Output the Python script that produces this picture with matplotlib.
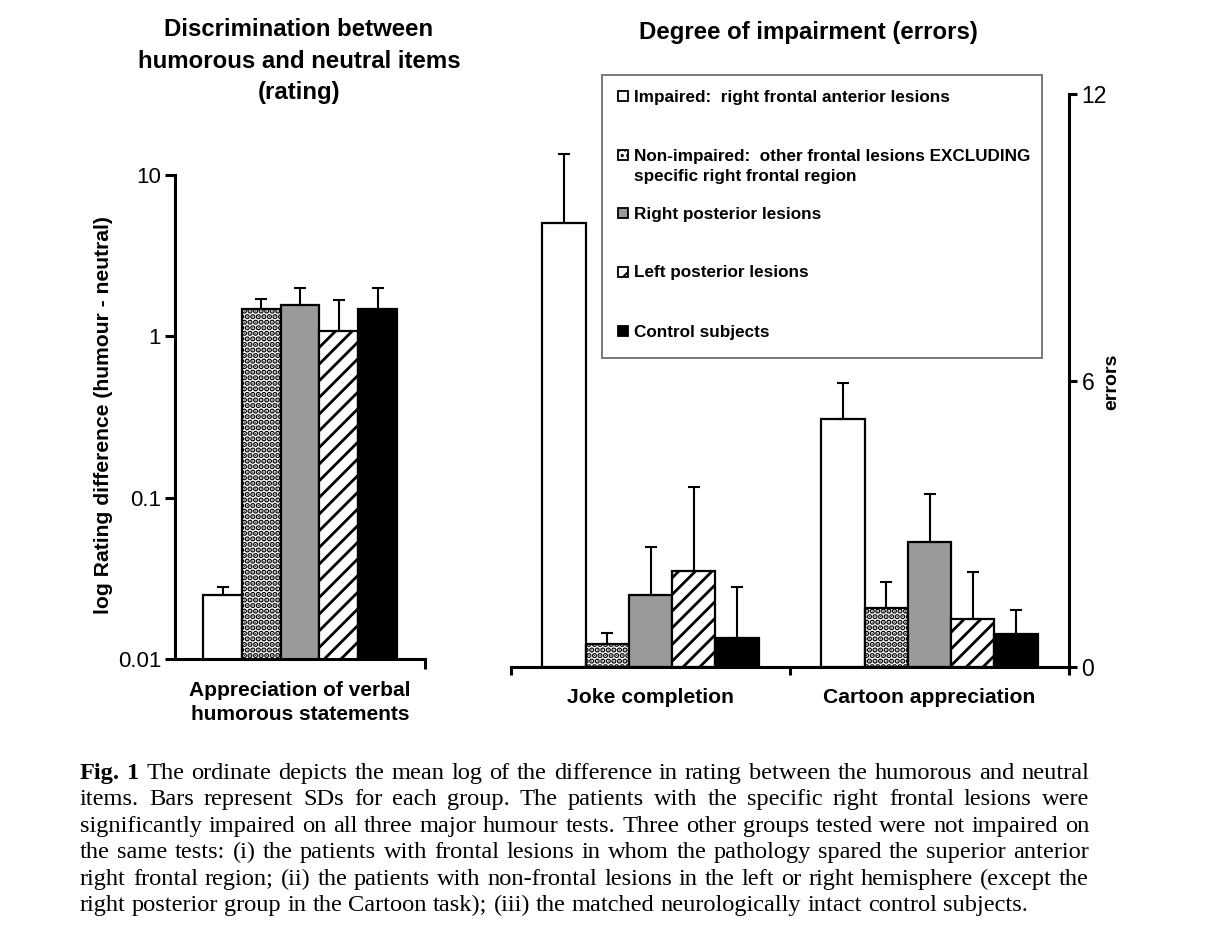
import numpy as np
import matplotlib
matplotlib.use("Agg")
import matplotlib.pyplot as plt
from matplotlib.patches import Rectangle
from matplotlib.ticker import FixedLocator, NullLocator

# --- data ---
groups = ["Impaired:  right frontal anterior lesions",
          "Non-impaired:  other frontal lesions EXCLUDING\nspecific right frontal region",
          "Right posterior lesions",
          "Left posterior lesions",
          "Control subjects"]

verbal_label = "Appreciation of verbal\nhumorous statements"
verbal_mean = [0.025, 1.48, 1.56, 1.08, 1.48]
verbal_sd = [0.003, 0.23, 0.44, 0.60, 0.52]

error_tasks = ["Joke completion", "Cartoon appreciation"]
joke_mean = [9.30, 0.49, 1.50, 2.01, 0.60]
joke_sd = [1.44, 0.22, 1.01, 1.75, 1.07]
cartoon_mean = [5.19, 1.24, 2.61, 1.00, 0.69]
cartoon_sd = [0.76, 0.53, 1.01, 1.00, 0.50]

# bar styles per group
faces = ["white", "white", "#9a9a9a", "white", "black"]
hatches = ["", "...", "", "//", ""]
hatch_lw = [1.0, 2.8, 1.0, 2.0, 1.0]

W, H = 1222, 946
plt.rcParams["font.family"] = ["Liberation Sans", "DejaVu Sans"]
plt.rcParams["hatch.color"] = "black"

fig = plt.figure(figsize=(W / 100, H / 100), dpi=100)
fig.patch.set_facecolor("white")


def fx(px):
    return px / W


def fy(py):
    return 1 - py / H


bw = 0.155
offsets = (np.arange(5) - 2) * bw


def draw_bars(ax, center, means, sds):
    for i in range(5):
        x = center + offsets[i]
        with plt.rc_context({"hatch.linewidth": hatch_lw[i]}):
            ax.bar(x, means[i], width=bw, color=faces[i], hatch=hatches[i],
                   edgecolor="black", linewidth=1.6, zorder=2)
        ax.errorbar(x, means[i], yerr=[[0], [sds[i]]], fmt="none",
                    ecolor="black", elinewidth=1.5, capsize=4, capthick=1.5,
                    zorder=3)


# ---------- left panel: log rating difference ----------
ax1 = fig.add_axes([fx(175), fy(659), fx(250), (659 - 175) / H])
ax1.set_yscale("log")
draw_bars(ax1, 0.5, verbal_mean, verbal_sd)
ax1.set_xlim(0, 1)
ax1.set_ylim(0.01, 10)
ax1.yaxis.set_major_locator(FixedLocator([0.01, 0.1, 1, 10]))
ax1.yaxis.set_minor_locator(NullLocator())
ax1.set_yticklabels(["0.01", "0.1", "1", "10"])
ax1.set_xticks([1])
ax1.set_xticklabels([])
ax1.set_xticks([0.5], labels=[verbal_label], minor=True)
ax1.tick_params(axis="x", which="minor", length=0, pad=16, labelsize=15)
for t in ax1.get_xticklabels(minor=True):
    t.set_fontweight("bold")
    t.set_linespacing(1.3)
ax1.tick_params(axis="both", which="major", direction="out", length=7,
                width=2.2, labelsize=16)
ax1.tick_params(axis="y", pad=3)
for s in ["top", "right"]:
    ax1.spines[s].set_visible(False)
for s in ["left", "bottom"]:
    ax1.spines[s].set_linewidth(2.2)
ax1.set_ylabel("log Rating difference (humour - neutral)", fontsize=15.2,
               fontweight="bold", va="center")
ax1.yaxis.set_label_coords((103 - 175) / 250, (659 - 415) / 484)

# ---------- right panel: errors ----------
ax2 = fig.add_axes([fx(511), fy(667), fx(1069 - 511), (667 - 94) / H])
draw_bars(ax2, 0.5, joke_mean, joke_sd)
draw_bars(ax2, 1.5, cartoon_mean, cartoon_sd)
ax2.set_xlim(0, 2)
ax2.set_ylim(0, 12)
ax2.yaxis.tick_right()
ax2.yaxis.set_label_position("right")
ax2.set_yticks([0, 6, 12])
ax2.set_xticks([0, 1, 2])
ax2.set_xticklabels([])
ax2.set_xticks([0.5, 1.5], labels=error_tasks, minor=True)
ax2.tick_params(axis="x", which="minor", length=0, pad=15, labelsize=15.2)
for t in ax2.get_xticklabels(minor=True):
    t.set_fontweight("bold")
ax2.tick_params(axis="both", which="major", direction="out", length=6,
                width=2.2, labelsize=16.5)
ax2.tick_params(axis="y", pad=3)
for s in ["top", "left"]:
    ax2.spines[s].set_visible(False)
for s in ["right", "bottom"]:
    ax2.spines[s].set_linewidth(2.2)
ax2.set_ylabel("errors", fontsize=14, fontweight="bold", va="center")
ax2.yaxis.set_label_coords((1112 - 511) / 558, (667 - 382) / 573)

# ---------- titles ----------
fig.text(fx(299), fy(61), "Discrimination between\nhumorous and neutral items\n(rating)",
         ha="center", va="center", fontsize=17.3, fontweight="bold",
         linespacing=1.45)
fig.text(fx(808), fy(32), "Degree of impairment (errors)", ha="center",
         va="center", fontsize=17.3, fontweight="bold")

# ---------- legend box ----------
fig.add_artist(Rectangle((fx(602), fy(358)), fx(440), 283 / H,
                         transform=fig.transFigure, fill=False,
                         edgecolor="#6e6e6e", linewidth=1.3))
legend_y = [96, 155, 213, 272, 331]
for i, lab in enumerate(groups):
    yc = legend_y[i]
    with plt.rc_context({"hatch.linewidth": min(hatch_lw[i], 1.5)}):
        fig.add_artist(Rectangle((fx(618), fy(yc + 5)), fx(10), 10 / H,
                                 transform=fig.transFigure, facecolor=faces[i],
                                 hatch=hatches[i], edgecolor="black",
                                 linewidth=1.3))
    for k, part in enumerate(lab.split("\n")):
        fig.text(fx(634), fy(yc + 5.5 + 20 * k), part, ha="left",
                 va="baseline", fontsize=12.3, fontweight="bold")

# ---------- caption (justified lines) ----------
caption = [
    "The ordinate depicts the mean log of the difference in rating between the humorous and neutral",
    "items. Bars represent SDs for each group. The patients with the specific right frontal lesions were",
    "significantly impaired on all three major humour tests. Three other groups tested were not impaired on",
    "the same tests: (i) the patients with frontal lesions in whom the pathology spared the superior anterior",
    "right frontal region; (ii) the patients with non-frontal lesions in the left or right hemisphere (except the",
    "right posterior group in the Cartoon task); (iii) the matched neurologically intact control subjects.",
]
renderer = fig.canvas.get_renderer()
cap_size = 17.6
cap_font = dict(family=["Liberation Serif", "DejaVu Serif"], fontsize=cap_size)
x_left, x_right = 80, 1089
base_y = 779
for li, line in enumerate(caption):
    y = fy(base_y + li * 26.4)
    words = line.split(" ")
    weights = ["normal"] * len(words)
    if li == 0:
        words = ["Fig.", "1"] + words
        weights = ["bold", "bold"] + weights
    texts = [fig.text(0, y, w, va="baseline", ha="left", fontweight=wt,
                      **cap_font) for w, wt in zip(words, weights)]
    widths = [t.get_window_extent(renderer).width for t in texts]
    if li < len(caption) - 1:
        gap = (x_right - x_left - sum(widths)) / (len(words) - 1)
    else:
        gap = 0.25 * cap_size * 100 / 72
    x = x_left
    for t, wdt in zip(texts, widths):
        t.set_x(fx(x))
        x += wdt + gap

fig.savefig("out.png", dpi=100, facecolor="white")
